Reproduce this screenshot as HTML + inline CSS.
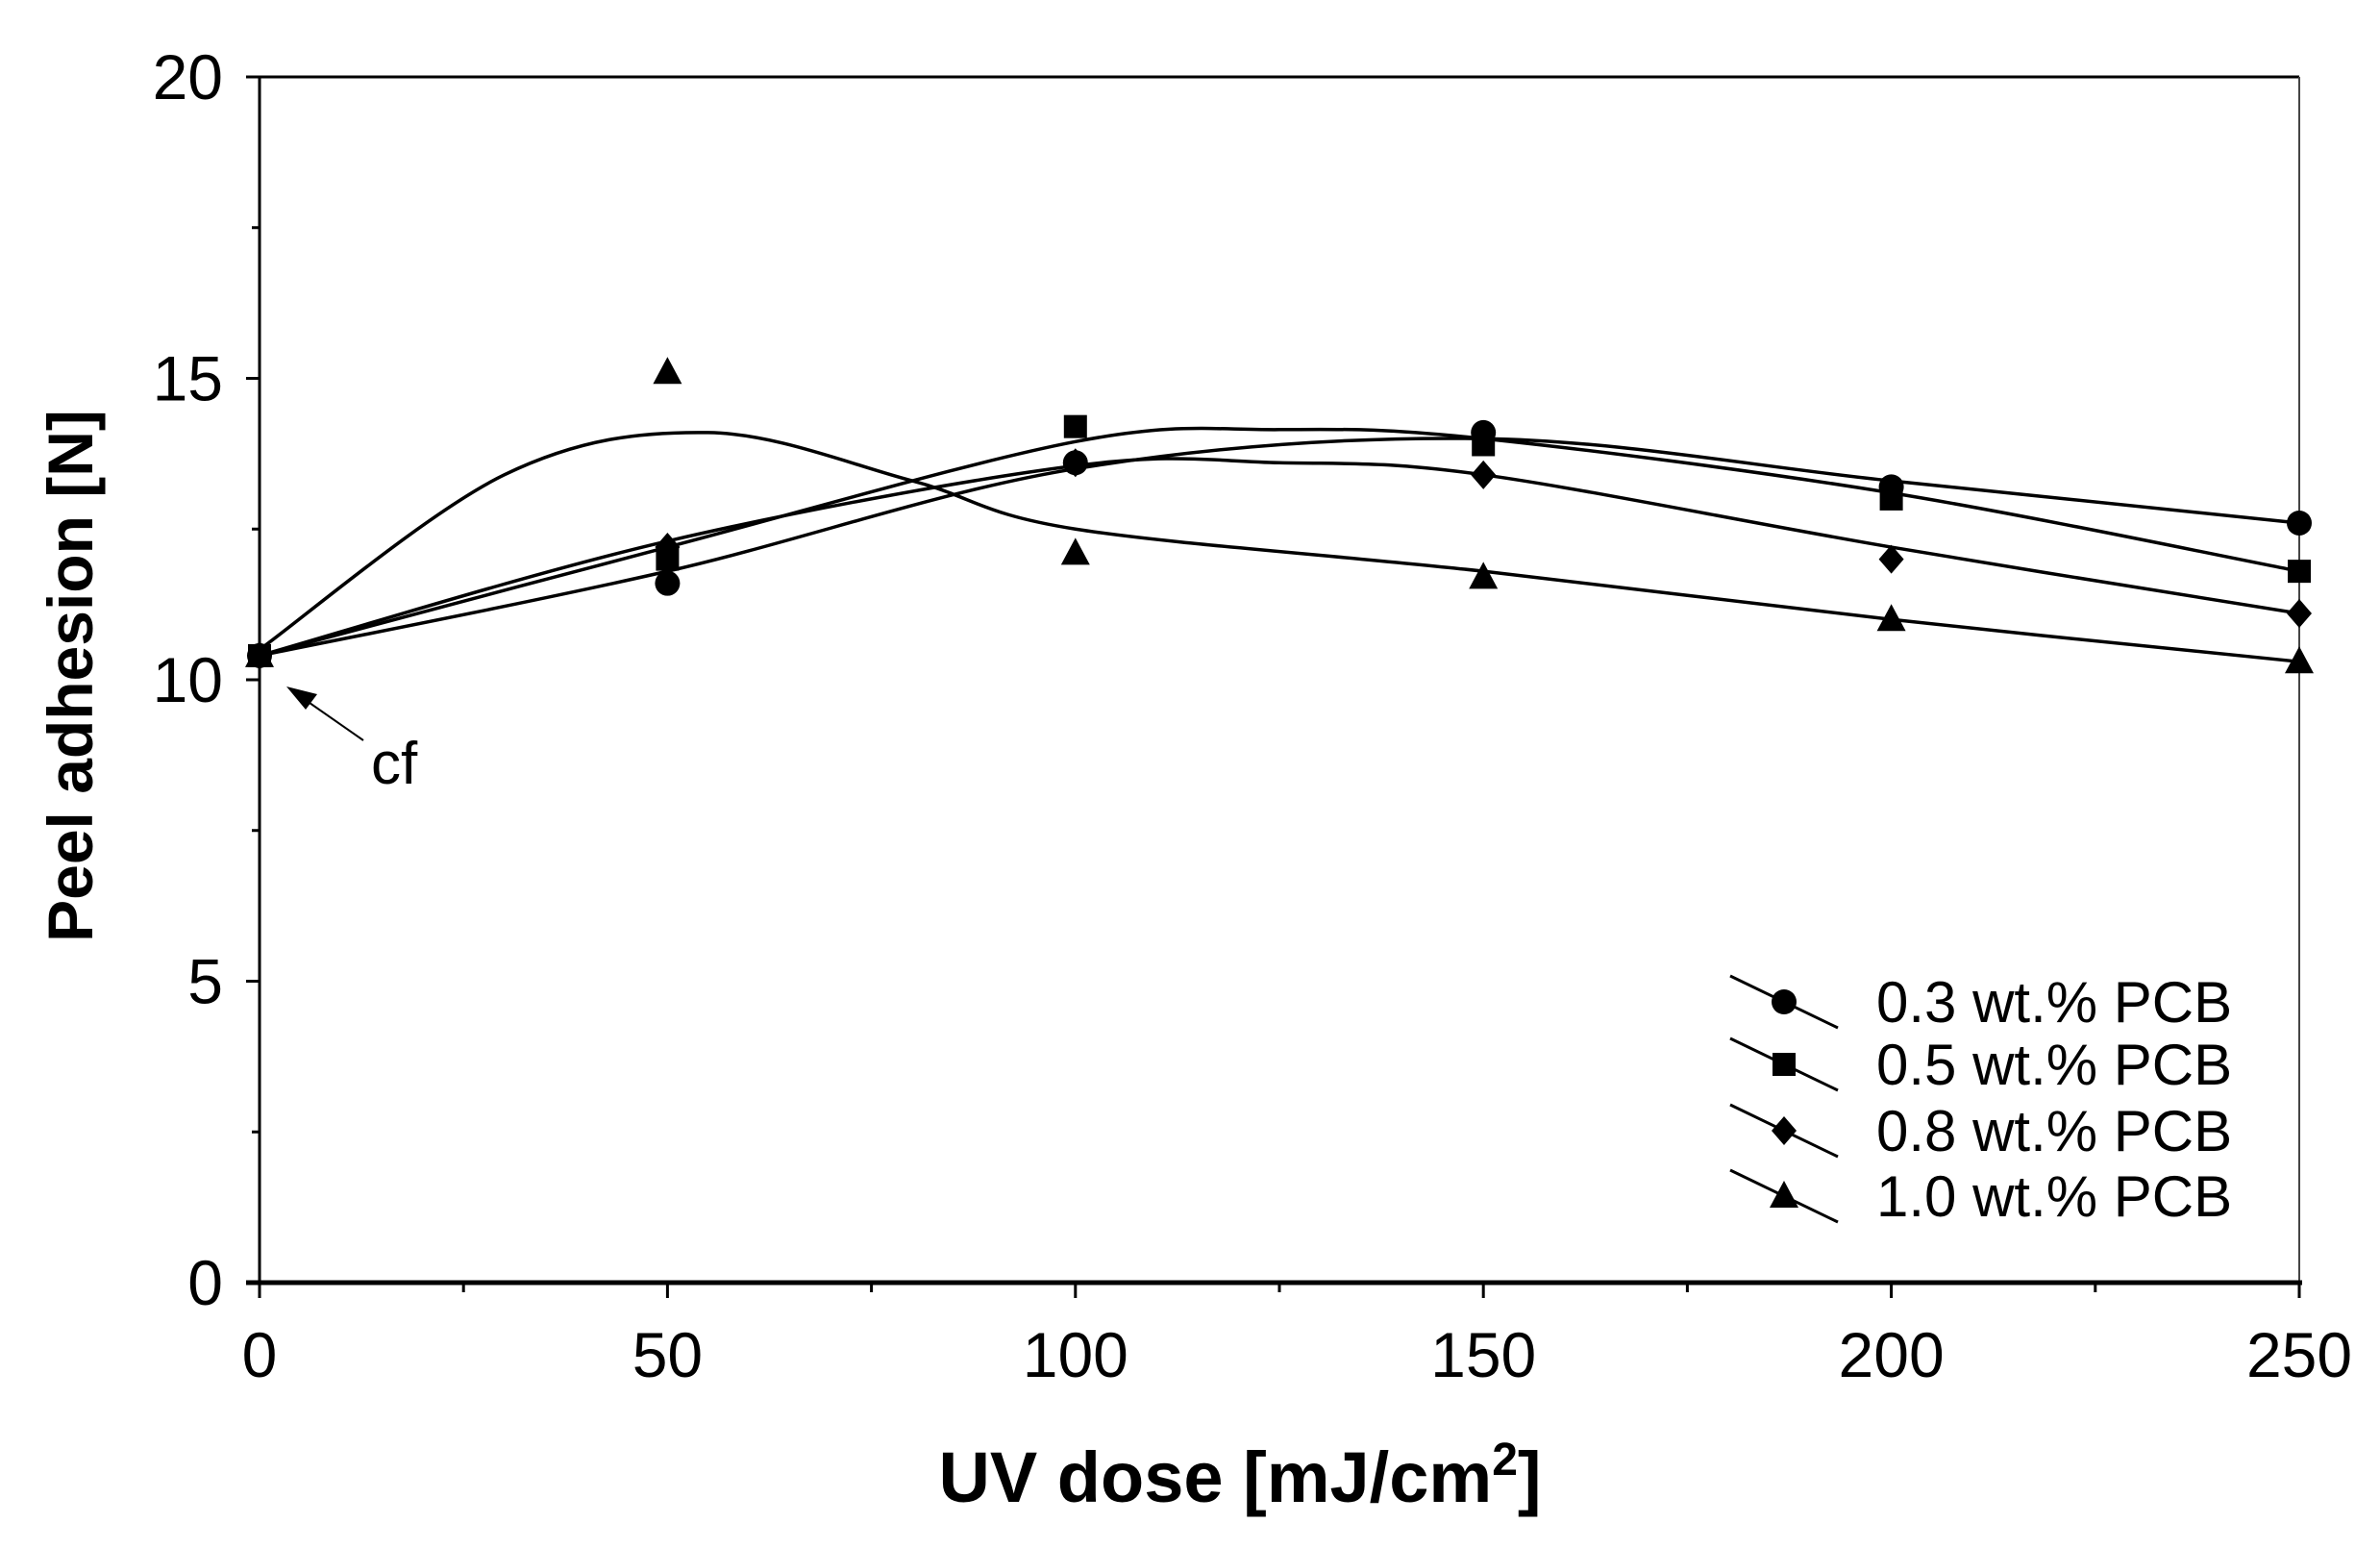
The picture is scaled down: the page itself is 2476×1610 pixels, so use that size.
<!DOCTYPE html>
<html><head><meta charset="utf-8"><style>
html,body{margin:0;padding:0;background:#fff;width:2476px;height:1610px;overflow:hidden}
svg{display:block}
text{font-family:"Liberation Sans",Arial,sans-serif;fill:#000}
</style></head><body>
<svg id="s" width="2476" height="1610" viewBox="0 0 2476 1610" xmlns="http://www.w3.org/2000/svg">
<rect x="0" y="0" width="2476" height="1610" fill="#fff"/>
<g id="g"></g>
</svg>
<script>
const X=v=>270+v*8.488, Y=v=>1334-v*62.7;
let h='';
h+=`<line x1="270" y1="80" x2="2392" y2="80" stroke="#000" stroke-width="3"/>`;
h+=`<line x1="2392" y1="80" x2="2392" y2="1334" stroke="#444" stroke-width="2"/>`;
h+=`<line x1="270" y1="80" x2="270" y2="1336" stroke="#000" stroke-width="3"/>`;
h+=`<line x1="256" y1="1334" x2="2395" y2="1334" stroke="#000" stroke-width="5"/>`;
for(let v=0;v<=20;v+=2.5){const y=Y(v),maj=v%5==0;h+=`<line x1="${maj?256:262}" y1="${y}" x2="270" y2="${y}" stroke="#000" stroke-width="3"/>`;
 if(maj)h+=`<text x="232" y="${y+23}" font-size="66" text-anchor="end">${v}</text>`;}
for(let v=0;v<=250;v+=25){const x=X(v),maj=v%50==0;h+=`<line x1="${x}" y1="1334" x2="${x}" y2="${maj?1350:1344}" stroke="#000" stroke-width="3"/>`;
 if(maj)h+=`<text x="${x}" y="1432" font-size="66" text-anchor="middle">${v}</text>`;}
h+=`<text x="1290" y="1562" font-size="74" font-weight="bold" text-anchor="middle">UV dose [mJ/cm<tspan font-size="48" dy="-28">2</tspan><tspan dy="28">]</tspan></text>`;
h+=`<text transform="translate(96,703) rotate(-90)" font-size="66" font-weight="bold" text-anchor="middle">Peel adhesion [N]</text>`;
h+=`<line x1="378" y1="770" x2="312" y2="724" stroke="#000" stroke-width="2"/>`;
h+=`<polygon points="298,714 330,722 318,738" fill="#000"/>`;
h+=`<text x="386" y="815" font-size="62">cf</text>`;
function cr(pts){let p=pts.map(a=>[X(a[0]),Y(a[1])]);let d=`M${p[0][0]},${p[0][1]}`;
 for(let i=0;i<p.length-1;i++){const p0=p[i-1]||p[i],p1=p[i],p2=p[i+1],p3=p[i+2]||p2;
 d+=` C${p1[0]+(p2[0]-p0[0])/6},${p1[1]+(p2[1]-p0[1])/6} ${p2[0]-(p3[0]-p1[0])/6},${p2[1]-(p3[1]-p1[1])/6} ${p2[0]},${p2[1]}`;}
 return `<path d="${d}" fill="none" stroke="#000" stroke-width="3.5"/>`;}
h+=cr([[0,10.5],[30,13.4],[55,14.1],[80,13.3],[100,12.5],[150,11.8],[200,11.0],[250,10.3]]);
h+=cr([[0,10.4],[50,11.8],[100,13.5],[150,14.0],[200,13.3],[250,12.6]]);
h+=cr([[0,10.4],[50,12.2],[100,13.95],[125,14.15],[150,14.0],[200,13.1],[250,11.8]]);
h+=cr([[0,10.4],[50,12.3],[100,13.55],[125,13.6],[150,13.4],[200,12.2],[250,11.1]]);
function mk(t,x,y,s){s=s||1;if(t==0)return `<circle cx="${x}" cy="${y}" r="${13*s}" fill="#000"/>`;
 if(t==1)return `<rect x="${x-12*s}" y="${y-12*s}" width="${24*s}" height="${24*s}" fill="#000"/>`;
 if(t==2)return `<polygon points="${x},${y-15*s} ${x+13*s},${y} ${x},${y+15*s} ${x-13*s},${y}" fill="#000"/>`;
 return `<polygon points="${x},${y-16*s} ${x+15*s},${y+12*s} ${x-15*s},${y+12*s}" fill="#000"/>`;}
const data=[[10.4,11.6,13.6,14.1,13.2,12.6],[10.4,12.0,14.2,13.9,13.0,11.8],[10.4,12.2,13.6,13.4,12.0,11.1],[10.4,15.1,12.1,11.7,11.0,10.3]];
data.forEach((s,t)=>s.forEach((v,i)=>{h+=mk(t,X(i*50),Y(v));}));
const labs=["0.3 wt.% PCB","0.5 wt.% PCB","0.8 wt.% PCB","1.0 wt.% PCB"],ly=[1042,1107,1176,1244];
labs.forEach((l,i)=>{const y=ly[i];h+=`<line x1="1800" y1="${y-27}" x2="1912" y2="${y+27}" stroke="#000" stroke-width="3"/>`;
 h+=mk(i,1856,y);h+=`<text x="1952" y="${y+21}" font-size="60">${l}</text>`;});
document.getElementById('g').innerHTML=h;
</script>
</body></html>
